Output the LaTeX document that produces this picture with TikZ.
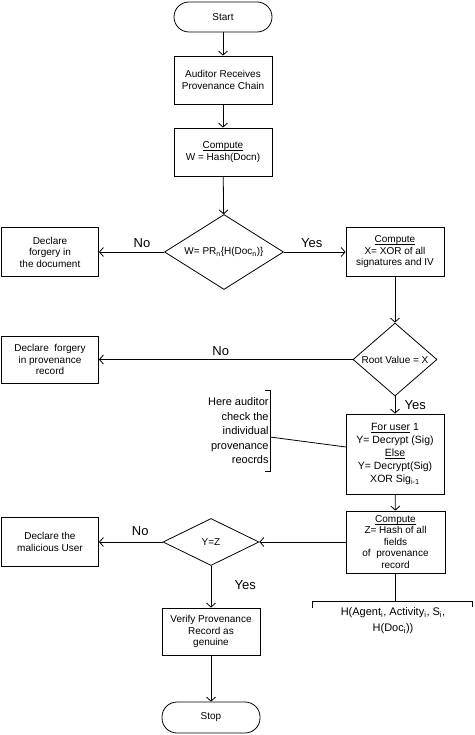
\documentclass[tikz,border=0pt]{standalone}
\usepackage{fontspec}
\setmainfont{Liberation Sans}
\usetikzlibrary{shapes.geometric,arrows.meta}
\newcommand\ulw[1]{\underline{\smash{#1}}\vphantom{#1}}
\newcommand\nodestart{Start}
\newcommand\nodeaud{Auditor Receives\\Provenance Chain}
\newcommand\nodehash{\ulw{Compute}\\W = Hash(Docn)}
\newcommand\nodedone{W= PR\textsubscript{n}\{H(Doc\textsubscript{n})\}}
\newcommand\nodeforg{Declare\\forgery in\\the document}
\newcommand\nodecx{\ulw{Compute}\\X= XOR of all\\signatures and IV}
\newcommand\nodedtwo{Root Value = X}
\newcommand\nodeforgrec{Declare\ \ forgery\\in provenance\\record}
\newcommand\nodeusr{\ulw{For user} 1\\Y= Decrypt (Sig)\\\ulw{Else}\\Y= Decrypt(Sig)\\XOR Sig\textsubscript{i-1}}
\newcommand\nodenote{Here auditor\\check the\\individual\\provenance\\reocrds}
\newcommand\nodecz{\ulw{Compute}\\Z= Hash of all\\fields\\of\ \ provenance\\record}
\newcommand\nodedthree{Y=Z}
\newcommand\nodemal{Declare the\\malicious User}
\newcommand\nodever{Verify Provenance\\Record as\\genuine}
\newcommand\nodestop{Stop}
\newcommand\nodehf{H(Agent\textsubscript{i}, Activity\textsubscript{i}, S\textsubscript{i},\\H(Doc\textsubscript{i}))}
\tikzstyle{mynodestyle} = [rectangle, draw, inner sep=0pt, align=center, font=\fontsize{10}{11.5}\selectfont]
\tikzstyle{pb} = [mynodestyle, minimum width=98pt, minimum height=48pt]
\tikzstyle{lbox} = [pb, minimum width=97pt]
\tikzstyle{tn} = [mynodestyle, rounded corners=15pt, minimum width=98pt, minimum height=30pt]
\tikzstyle{dc} = [diamond, draw, inner sep=0pt, align=center, font=\fontsize{10}{11.5}\selectfont]
\tikzstyle{lb} = [font=\fontsize{13}{15}\selectfont]
\tikzset{>={Straight Barb[length=4pt,width=9pt]}, every picture/.style={line width=0.8pt}}
\begin{document}
\begin{tikzpicture}[x=1pt, y=-1pt]
\useasboundingbox (0,0) rectangle (474,735);
\node[tn] (start) at (223, 17) {\nodestart};
\node[pb] (aud) at (223, 80) {\nodeaud};
\node[pb] (hash) at (223, 152) {\nodehash};
\node[dc, minimum width=119pt, minimum height=75pt, aspect=1.6] (done) at (224, 252) {\nodedone};
\node[lbox, minimum height=49pt] (forg) at (50, 252) {\nodeforg};
\node[pb, minimum height=49pt] (cx) at (395, 252) {\nodecx};
\node[dc, minimum width=84pt, minimum height=73pt, aspect=1.15] (dtwo) at (395, 359.5) {\nodedtwo};
\node[lbox, minimum height=47pt] (forgrec) at (50, 359.5) {\nodeforgrec};
\node[pb, minimum height=80pt, font=\fontsize{10.5}{13}\selectfont] (usr) at (395, 454) {\nodeusr};
\node[align=right, anchor=east, inner sep=0pt, font=\fontsize{11}{14.5}\selectfont] (note) at (269, 431) {\nodenote};
\node[pb, minimum width=99pt, minimum height=62pt] (cz) at (395.5, 542) {\nodecz};
\node[dc, minimum width=96pt, minimum height=47pt, aspect=2] (dthree) at (211, 542) {\nodedthree};
\node[lbox, minimum height=49pt] (mal) at (50, 542) {\nodemal};
\node[pb, minimum height=47pt] (ver) at (211, 631.5) {\nodever};
\node[tn, minimum height=31pt] (stop) at (211, 717.5) {\nodestop};
\node[align=center, inner sep=0pt, font=\fontsize{11}{16}\selectfont] (hf) at (393, 621) {\nodehf};
% bracket points
\coordinate (bt) at (270, 390);
\coordinate (bb) at (270, 471);
\coordinate (bm) at (270, 437);
\coordinate (nt) at (346, 447);
\coordinate (hl) at (312, 601);
\coordinate (hr) at (472, 601);
\draw [->] (start) -- (aud);
\draw [->] (aud) -- (hash);
\draw [->] (hash) -- (done);
\draw [->] (done) -- (forg) node[lb, pos=0.34, above=1pt] {No};
\draw [->] (done) -- (cx) node[lb, pos=0.45, above=1pt] {Yes};
\draw [->] (cx) -- (dtwo);
\draw [->] (dtwo) -- (forgrec) node[lb, pos=0.52, above=0pt] {No};
\draw [->] (dtwo) -- (usr) node[lb, right=6pt, pos=0.5] {Yes};
\draw [->] (usr) -- (cz);
\draw [->] (cz) -- (dthree);
\draw [->] (dthree) -- (mal) node[lb, pos=0.35, above=3pt] {No};
\draw [->] (dthree) -- (ver) node[lb, right=20pt, pos=0.45] {Yes};
\draw [->] (ver) -- (stop);
\draw ([xshift=-5pt]bt) -- (bt) -- (bb) -- ([xshift=-5pt]bb);
\draw (bm) -- (nt);
\draw (cz) -- (cz |- hl);
\draw (312, 608) -- (hl) -- (hr) -- (472, 607);
\end{tikzpicture}
\end{document}
